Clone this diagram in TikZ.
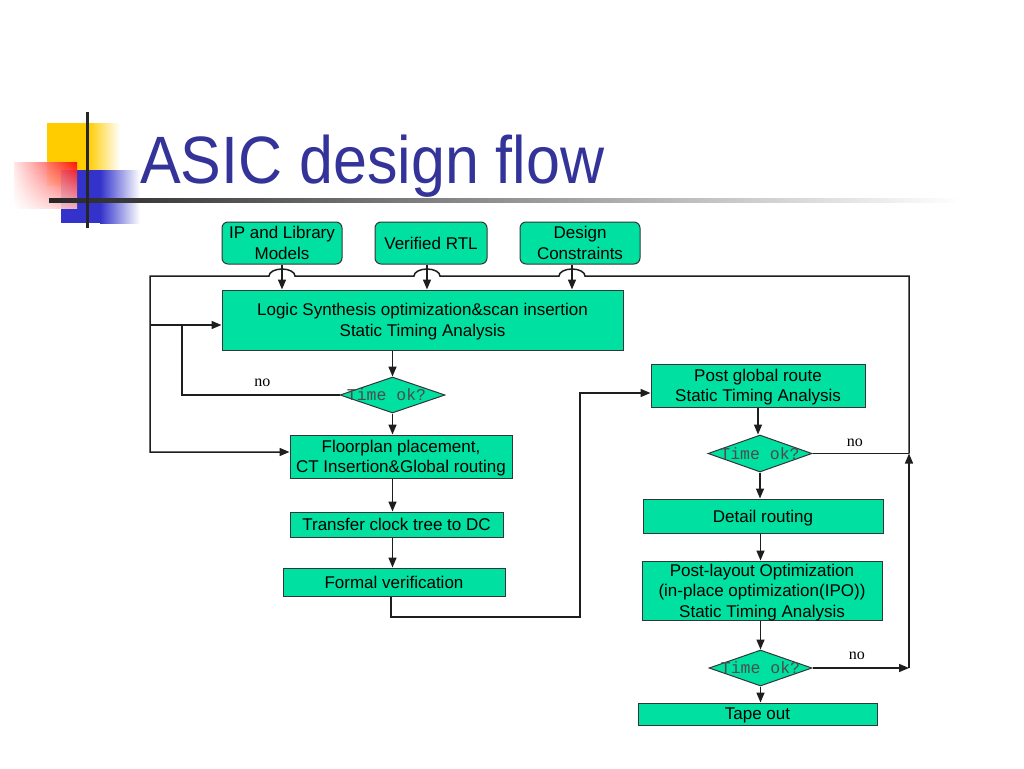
\documentclass[tikz,border=0pt]{standalone}
\usepackage{fontspec}
\setmainfont{Liberation Sans}
\newfontfamily\timefont{Liberation Mono}
\newfontfamily\nofont{Liberation Serif}
\usetikzlibrary{arrows.meta}
\usetikzlibrary{shapes.geometric}
\usetikzlibrary{shadings}
\definecolor{boxgreen}{RGB}{0,224,160}
\definecolor{titleblue}{RGB}{51,51,153}
\definecolor{tileyellow}{RGB}{255,204,0}
\definecolor{tileblue}{RGB}{51,51,204}
\definecolor{linegray}{RGB}{30,30,30}

\begin{document}
\begin{tikzpicture}[x=1pt,y=-1pt,
    flowbox/.style={draw=linegray!90, fill=boxgreen, line width=1pt, inner sep=0pt, align=center, text depth=0pt, font=\fontsize{17}{20.5}\selectfont},
    inbox/.style={flowbox, rounded corners=6pt},
    decision/.style={draw=linegray!90, fill=boxgreen, line width=1pt, diamond, inner sep=0pt},
    timetext/.style={font=\timefont\fontsize{16.5}{20}\selectfont, text=black!70, inner sep=0pt},
    nolabel/.style={font=\nofont\fontsize{16}{18}\selectfont, inner sep=0pt},
    wire/.style={draw=linegray, line width=1.5pt},
    flow/.style={wire, -{Triangle[length=10pt,width=8pt]}}]
\useasboundingbox (0,0) rectangle (1024,768);
\fill[white] (0,0) rectangle (1024,768);

% slide decoration
\fill[tileyellow] (47,123) rectangle (88,186);
\shade[left color=tileyellow, right color=white] (88,123) rectangle (120,186);
\fill[tileblue] (61,170) rectangle (100,223);
\shade[left color=tileblue, right color=white] (100,170) rectangle (140,223);
\shade[opacity=0.9, upper left=red!10, upper right=red, lower left=white, lower right=red!25] (14,162) rectangle (77,208);
\shade[left color=black!85, middle color=black!30, right color=white] (49,198) rectangle (960,202);
\fill[black!85] (85.5,112) rectangle (88.5,228);
\node[anchor=base west, inner sep=0pt, text=titleblue, font=\fontsize{67}{70}\selectfont] (title) at (140,183) {\scalebox{0.91}[1]{ASIC design flow}};

% inputs
\node[inbox, minimum width=120, minimum height=42] (ip) at (282,243) {IP and Library\\Models};
\node[inbox, minimum width=112, minimum height=42] (rtl) at (431,243) {Verified RTL};
\node[inbox, minimum width=120, minimum height=42] (dc) at (580,243) {Design\\Constraints};

% left column
\node[flowbox, minimum width=401, minimum height=60] (ls) at (422.5,320) {Logic Synthesis optimization\&scan insertion\\Static Timing Analysis};
\node[decision, minimum width=105, minimum height=36, label={[timetext, xshift=-6pt]center:Time ok?}] (t1) at (392.5,395) {};
\node[flowbox, minimum width=222, minimum height=43] (fp) at (401,456.5) {Floorplan placement,\\CT Insertion\&Global routing};
\node[flowbox, minimum width=213, minimum height=25] (tr) at (396.5,524.5) {Transfer clock tree to DC};
\node[flowbox, minimum width=222, minimum height=28] (fv) at (394,582) {Formal verification};

% right column
\node[flowbox, minimum width=214, minimum height=43] (pg) at (758,385.5) {Post global route\\Static Timing Analysis};
\node[decision, minimum width=104, minimum height=37, label={[timetext]center:Time ok?}] (t2) at (760,453.5) {};
\node[flowbox, minimum width=240, minimum height=34] (dr) at (763,516) {Detail routing};
\node[flowbox, minimum width=240, minimum height=59] (pl) at (762,590.5) {Post-layout Optimization\\(in-place optimization(IPO))\\Static Timing Analysis};
\node[decision, minimum width=103, minimum height=36, label={[timetext]center:Time ok?}] (t3) at (760.5,668) {};
\node[flowbox, minimum width=239, minimum height=22] (to) at (757.5,714) {Tape out};

\coordinate (rtop) at (909,276);
\coordinate (ltop) at (150,276);
\coordinate (rmid) at (909,453.5);
\coordinate (rlow) at (909,668);
\coordinate (lbranch) at (150,325);
\coordinate (nojoin) at (182,325);
\coordinate (fvdown) at (391,617);
\coordinate (riser) at (580,617);

% main flow
\draw[flow] (ip.south) -- (ip.south |- ls.north);
\draw[flow] ([xshift=-4pt]rtl.south) -- ([xshift=-4pt]rtl.south |- ls.north);
\draw[flow] ([xshift=-8pt]dc.south) -- ([xshift=-8pt]dc.south |- ls.north);
\draw[flow] (t1.north |- ls.south) -- (t1.north);
\draw[flow] (t1.south) -- (t1.south |- fp.north);
\draw[flow] (t1.south |- fp.south) -- (t1.south |- tr.north);
\draw[flow] (t1.south |- tr.south) -- (t1.south |- fv.north);
\draw[flow] (fv.south -| fvdown) -- (fvdown) -- (riser) |- ([yshift=-7.5pt]pg.west);
\draw[flow] (pg.south) -- (pg.south |- t2.north);
\draw[flow] (t2.south) -- (t2.south |- dr.north);
\draw[flow] (t3.north |- dr.south) -- (t3.north |- pl.north);
\draw[flow] (t3.north |- pl.south) -- (t3.north);
\draw[flow] (t3.south) -- (t3.south |- to.north);

% loops back
\draw[wire] (t1.west) -- node[nolabel, above=8pt, pos=0.49] {no} (t1.west -| nojoin) -- (nojoin);
\draw[flow] (lbranch) -- ([yshift=-5pt]ls.west);
\draw[flow] (t3.east) -- node[nolabel, above=8pt, pos=0.46] {no} (rlow);
\draw[flow] (rlow) -- (rmid);
\draw[wire] (t2.east) -- node[nolabel, above=6pt, pos=0.44] {no} (rmid);
\draw[flow] (rmid) -- (rtop) -- (585,276) arc[start angle=0, end angle=180, x radius=13pt, y radius=7pt]
  -- (440,276) arc[start angle=0, end angle=180, x radius=13pt, y radius=7pt]
  -- (295,276) arc[start angle=0, end angle=180, x radius=13pt, y radius=7pt]
  -- (ltop) |- ([yshift=4.5pt]fp.west);
\end{tikzpicture}
\end{document}
